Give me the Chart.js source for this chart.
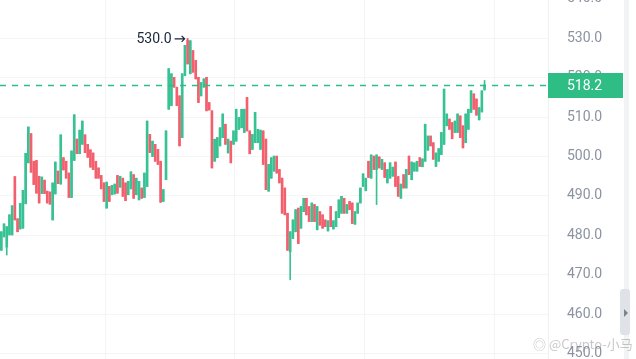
<!DOCTYPE html>
<html>
<head>
<meta charset="utf-8">
<script src="https://cdn.jsdelivr.net/npm/chart.js@4"></script>
<style>
  html, body { margin: 0; padding: 0; background: #fff; overflow: hidden; }
  #wrap { position: relative; width: 636px; height: 359px; overflow: hidden; }
  #chart { position: absolute; left: 0; top: -10px; }
  .rail { position: absolute; left: 624px; top: 0; width: 5px; height: 359px; background: #f2f3f5; }
  .btn { position: absolute; left: 620px; top: 289px; width: 10px; height: 46px; background: #dfe2e6; border-radius: 3px; }
  .btn:after { content: ''; position: absolute; left: 4px; top: 20px; border-left: 4px solid #7d838c; border-top: 4px solid transparent; border-bottom: 4px solid transparent; }
  .mark { position: absolute; left: 533px; top: 334px; font: 13px "Noto Sans CJK SC", Roboto, sans-serif; color: rgba(130,130,130,0.45); white-space: nowrap; }
</style>
</head>
<body>
<div id="wrap">
  <canvas id="chart" width="636" height="380"></canvas>
  <div class="rail"></div>
  <div class="btn"></div>
  <div class="mark">◎ @Crypto-小马</div>
</div>
<script>
// K線數據
const opens = [
  476.2, 479.6, 477.0, 480.1, 480.1, 494.9, 484.2, 481.6, 481.8, 488.0,
  498.4, 505.8, 498.8, 499.0, 495.0, 490.6, 494.0, 491.2, 491.0, 483.9,
  490.5, 496.3, 493.0, 499.7, 498.8, 495.8, 489.6, 499.0, 504.4, 500.7,
  503.1, 505.5, 503.1, 501.7, 500.9, 498.8, 497.1, 495.2, 493.3, 486.9,
  492.4, 490.3, 490.5, 495.2, 492.2, 494.5, 493.3, 490.3, 491.8, 495.4,
  490.3, 489.0, 492.0, 489.6, 492.4, 505.6, 500.0, 503.1, 501.8, 498.8,
  488.6, 494.1, 512.0, 512.9, 520.1, 517.6, 515.4, 504.8, 520.5, 529.6,
  521.0, 526.9, 524.4, 520.1, 515.4, 517.6, 520.1, 513.7, 511.6, 498.8,
  499.7, 502.7, 504.8, 508.2, 500.9, 503.9, 503.1, 503.9, 506.9, 507.3,
  506.1, 515.0, 506.5, 501.8, 503.5, 503.5, 501.8, 506.5, 504.4, 491.2,
  494.5, 496.3, 500.1, 496.7, 494.5, 492.0, 485.6, 475.8, 479.2, 480.9,
  486.9, 481.8, 486.0, 489.4, 487.3, 483.5, 487.8, 481.4, 486.0, 485.2,
  483.9, 481.1, 487.3, 481.6, 482.2, 484.5, 485.6, 489.4, 485.6, 488.6,
  488.2, 482.8, 485.6, 488.2, 492.4, 491.3, 498.8, 494.5, 500.1, 496.7,
  499.9, 496.7, 498.4, 493.3, 494.5, 495.0, 498.6, 494.9, 489.4, 495.4,
  492.0, 500.1, 494.1, 496.3, 496.3, 499.7, 497.4, 498.8, 501.6, 505.2,
  503.5, 497.5, 498.8, 500.5, 503.1, 507.8, 509.5, 508.6, 506.1, 506.1,
  510.3, 507.8, 503.5, 506.9, 511.2, 515.9, 514.6, 509.3, 511.3, 517.0
];
const closes = [
  480.9, 482.9, 482.2, 485.2, 487.5, 483.9, 480.9, 488.1, 491.4, 500.8,
  507.5, 496.0, 492.9, 490.7, 488.2, 494.8, 490.6, 488.2, 487.9, 493.3,
  498.6, 493.1, 505.5, 496.6, 494.5, 489.6, 501.4, 510.6, 500.7, 506.7,
  509.0, 501.0, 499.8, 497.3, 496.7, 494.5, 494.5, 491.8, 488.6, 493.5,
  488.6, 492.7, 493.0, 490.7, 495.0, 489.9, 488.8, 493.7, 496.1, 489.4,
  494.5, 493.7, 489.4, 495.8, 509.0, 501.0, 503.9, 498.8, 498.0, 488.4,
  491.6, 506.5, 522.3, 521.0, 517.6, 512.9, 502.7, 521.0, 528.2, 523.5,
  529.4, 521.4, 519.7, 513.7, 518.8, 519.7, 511.6, 511.8, 497.1, 504.4,
  504.8, 507.3, 510.8, 503.1, 504.4, 498.4, 506.5, 512.0, 509.9, 512.0,
  512.0, 506.5, 500.7, 505.6, 511.2, 506.9, 506.7, 498.0, 491.6, 498.0,
  499.7, 500.1, 495.8, 493.3, 485.6, 485.2, 476.2, 480.9, 483.9, 486.5,
  477.9, 487.3, 489.4, 485.2, 483.5, 488.2, 483.5, 487.3, 482.6, 481.8,
  482.2, 483.7, 482.2, 483.7, 486.0, 489.0, 489.9, 485.6, 487.8, 486.5,
  483.0, 486.0, 488.2, 492.0, 495.6, 494.5, 494.7, 500.4, 496.7, 500.4,
  497.1, 499.3, 494.7, 496.7, 498.4, 497.3, 492.4, 489.9, 493.0, 492.0,
  496.7, 495.4, 498.6, 498.4, 498.8, 497.5, 499.4, 508.2, 505.2, 502.7,
  499.3, 500.9, 502.0, 506.1, 517.1, 510.8, 506.9, 504.5, 509.0, 510.8,
  504.8, 502.2, 510.8, 512.0, 516.7, 512.0, 510.5, 512.4, 516.7, 518.2
];
const highs = [
  480.9, 482.9, 482.2, 485.2, 487.5, 494.9, 484.2, 488.1, 491.4, 500.8,
  507.5, 505.8, 498.8, 499.0, 495.0, 494.8, 494.0, 491.2, 491.0, 493.3,
  498.6, 496.3, 505.5, 499.7, 498.8, 495.8, 501.4, 510.6, 504.4, 506.7,
  509.0, 505.5, 503.1, 501.7, 500.9, 498.8, 497.1, 495.2, 493.3, 493.5,
  492.4, 492.7, 493.0, 495.2, 495.0, 494.5, 493.3, 493.7, 496.1, 495.4,
  494.5, 493.7, 492.0, 495.8, 509.0, 505.6, 503.9, 503.1, 501.8, 498.8,
  491.6, 506.5, 522.3, 521.0, 520.1, 517.6, 515.4, 521.0, 528.2, 530.0,
  529.4, 526.9, 524.4, 520.1, 518.8, 519.7, 520.1, 513.7, 511.6, 504.4,
  504.8, 507.3, 510.8, 508.2, 504.4, 503.9, 506.5, 512.0, 509.9, 512.0,
  512.0, 515.0, 506.5, 505.6, 511.2, 506.9, 506.7, 506.5, 504.4, 498.0,
  499.7, 500.1, 500.1, 496.7, 494.5, 492.0, 485.6, 480.9, 483.9, 486.5,
  486.9, 487.3, 489.4, 489.4, 487.3, 488.2, 487.8, 487.3, 486.0, 485.2,
  483.9, 483.7, 487.3, 483.7, 486.0, 489.0, 489.9, 489.4, 487.8, 488.6,
  488.2, 486.0, 488.2, 492.0, 495.6, 494.5, 498.8, 500.4, 500.1, 500.4,
  499.9, 499.3, 498.4, 496.7, 498.4, 497.3, 498.6, 494.9, 493.0, 495.4,
  496.7, 500.1, 498.6, 498.4, 498.8, 499.7, 499.4, 508.2, 505.2, 505.2,
  503.5, 500.9, 502.0, 506.1, 517.1, 510.8, 509.5, 508.6, 509.0, 510.8,
  510.3, 507.8, 510.8, 512.0, 516.7, 515.9, 514.6, 512.4, 516.7, 519.3
];
const lows = [
  476.2, 479.6, 475.0, 480.1, 480.1, 483.9, 480.9, 481.6, 481.8, 488.0,
  498.4, 496.0, 492.9, 490.7, 488.2, 490.6, 490.6, 488.2, 487.9, 483.9,
  490.5, 493.1, 493.0, 496.6, 494.5, 489.6, 489.6, 499.0, 500.7, 500.7,
  503.1, 501.0, 499.8, 497.3, 496.7, 494.5, 494.5, 491.8, 488.6, 486.9,
  488.6, 490.3, 490.5, 490.7, 492.2, 489.9, 488.8, 490.3, 491.8, 489.4,
  490.3, 489.0, 489.4, 489.6, 492.4, 501.0, 500.0, 498.8, 498.0, 488.4,
  488.6, 494.1, 512.0, 512.9, 517.6, 512.9, 502.7, 504.8, 520.5, 523.5,
  521.0, 521.4, 519.7, 513.7, 515.4, 517.6, 511.6, 511.8, 497.1, 498.8,
  499.7, 502.7, 504.8, 503.1, 500.9, 498.4, 503.1, 503.9, 506.9, 507.3,
  506.1, 506.5, 500.7, 501.8, 503.5, 503.5, 501.8, 498.0, 491.6, 491.2,
  494.5, 496.3, 495.8, 493.3, 485.6, 485.2, 476.2, 468.7, 479.2, 480.9,
  477.9, 481.8, 486.0, 485.2, 483.5, 483.5, 483.5, 481.4, 482.6, 481.8,
  482.2, 481.1, 482.2, 481.6, 482.2, 484.5, 485.6, 485.6, 485.6, 486.5,
  483.0, 482.8, 485.6, 488.2, 492.4, 491.3, 494.7, 494.5, 496.7, 487.8,
  497.1, 496.7, 494.7, 493.3, 494.5, 495.0, 492.4, 489.9, 489.4, 492.0,
  492.0, 495.4, 494.1, 496.3, 496.3, 497.5, 497.4, 498.8, 501.6, 502.7,
  499.3, 497.5, 498.8, 500.5, 503.1, 507.8, 506.9, 504.5, 506.1, 506.1,
  504.8, 502.2, 503.5, 506.9, 511.2, 512.0, 510.5, 509.3, 511.3, 516.8
];
// 右側留白的空位數
const EMPTY_SLOTS = 23;
const Y_MIN = 445.81;
const Y_MAX = 542.27;
const Y_STEP = 10;

const UP = '#2ebd85';
const DOWN = '#f6465d';
const UP_BAR = '#38c293';
const DOWN_BAR = '#f2606e';
const FONT = 'Roboto, "Noto Sans", sans-serif';

const labels = Array.from({ length: opens.length + EMPTY_SLOTS }, (_, i) => i);
const barColors = opens.map((o, i) => closes[i] >= o ? UP_BAR : DOWN_BAR);

// 最新價虛線 + 價格標籤 + 最高點標註
const overlay = {
  id: 'overlay',
  afterDraw(chart) {
    const { ctx, chartArea, scales } = chart;
    const last = closes[closes.length - 1];
    const y = scales.y.getPixelForValue(last);

    ctx.save();
    ctx.strokeStyle = UP;
    ctx.lineWidth = 1.5;
    ctx.setLineDash([6, 6]);
    ctx.beginPath();
    ctx.moveTo(chartArea.left, Math.round(y) + 0.5);
    ctx.lineTo(chartArea.right, Math.round(y) + 0.5);
    ctx.stroke();
    ctx.setLineDash([]);

    ctx.fillStyle = UP;
    ctx.fillRect(chartArea.right, Math.round(y) - 12, 75, 25);
    ctx.fillStyle = '#fff';
    ctx.font = '14px ' + FONT;
    ctx.textAlign = 'left';
    ctx.textBaseline = 'middle';
    ctx.fillText(last.toFixed(1), chartArea.right + 19, Math.round(y) + 1);

    // 最高價
    let hi = 0;
    highs.forEach((h, i) => { if (h > highs[hi]) hi = i; });
    const hx = scales.x.getPixelForValue(hi);
    const hy = scales.y.getPixelForValue(highs[hi]);
    ctx.strokeStyle = '#1b263b';
    ctx.fillStyle = '#1b263b';
    ctx.lineWidth = 1.2;
    ctx.beginPath();
    ctx.moveTo(hx - 13, hy + 0.5);
    ctx.lineTo(hx - 3, hy + 0.5);
    ctx.moveTo(hx - 6, hy - 2.5);
    ctx.lineTo(hx - 3, hy + 0.5);
    ctx.lineTo(hx - 6, hy + 3.5);
    ctx.stroke();
    ctx.textAlign = 'right';
    ctx.fillText(highs[hi].toFixed(1), hx - 16, hy + 1);
    ctx.restore();
  }
};

new Chart(document.getElementById('chart'), {
  type: 'bar',
  data: {
    labels,
    datasets: [
      {
        data: opens.map((o, i) => [o, closes[i]]),
        backgroundColor: barColors,
        barThickness: 2,
        minBarLength: 1,
        grouped: false,
        order: 1
      },
      {
        data: lows.map((l, i) => [l, highs[i]]),
        backgroundColor: barColors,
        barThickness: 1,
        grouped: false,
        order: 2
      }
    ]
  },
  options: {
    responsive: false,
    animation: false,
    devicePixelRatio: 1,
    layout: { padding: 0 },
    plugins: {
      legend: { display: false },
      tooltip: { enabled: false }
    },
    scales: {
      x: {
        ticks: { display: false, autoSkip: false },
        border: { display: false },
        grid: {
          drawTicks: false,
          color: c => (c.index - 39) % 48 === 0 ? '#f3f4f6' : 'transparent'
        },
        afterFit: s => { s.height = 0; s.paddingLeft = 0; s.paddingRight = 0; }
      },
      y: {
        position: 'right',
        min: Y_MIN,
        max: Y_MAX,
        border: { display: true, color: '#eef0f2' },
        grid: { color: '#f4f5f7', drawTicks: false },
        ticks: {
          stepSize: Y_STEP,
          includeBounds: false,
          padding: 19,
          color: '#8b93a1',
          font: { family: FONT, size: 14 },
          callback: v => v.toFixed(1)
        },
        afterFit: s => { s.width = 88; s.paddingTop = 0; s.paddingBottom = 0; }
      }
    }
  },
  plugins: [overlay]
});
</script>
</body>
</html>
